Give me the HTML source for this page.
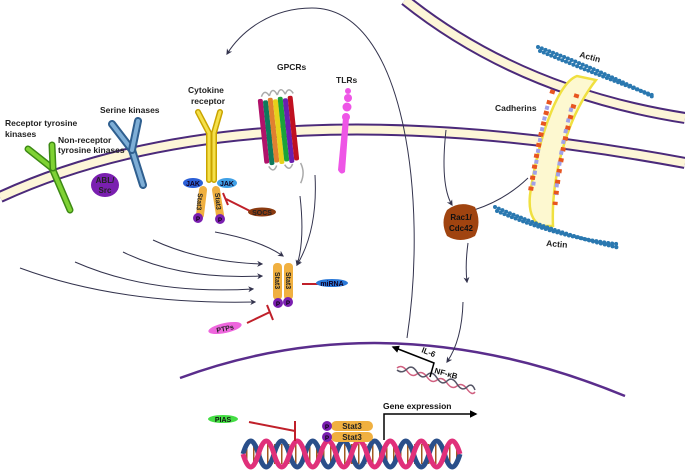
<!DOCTYPE html>
<html><head><meta charset="utf-8"><style>
html,body{margin:0;padding:0;background:#fff;}
svg{display:block;font-family:"Liberation Sans",Arial,sans-serif;font-weight:bold;}
</style></head><body>
<svg width="685" height="474" viewBox="0 0 685 474" xmlns="http://www.w3.org/2000/svg">
<defs>
<marker id="ah" viewBox="0 0 10 10" refX="8" refY="5" markerWidth="6" markerHeight="6" orient="auto"><path d="M0,0 L10,5 L0,10 L3,5z" fill="#33334d"/></marker>
<marker id="bh" viewBox="0 0 10 10" refX="8" refY="5" markerWidth="5" markerHeight="5" orient="auto"><path d="M0,0 L10,5 L0,10z" fill="#000"/></marker>
</defs>

<path d="M405,0 Q520,92 685,118" stroke="#4b2a7a" stroke-width="12" fill="none"/>
<path d="M405,0 Q520,92 685,118" stroke="#fdf6d8" stroke-width="8" fill="none"/>
<path d="M0,197 Q250,82 685,163" stroke="#4b2a7a" stroke-width="12" fill="none"/>
<path d="M0,197 Q250,82 685,163" stroke="#fdf6d8" stroke-width="8" fill="none"/>
<path d="M180,378 Q392,300 625,396" stroke="#5a2d8c" stroke-width="2.5" fill="none"/>

<path d="M407,338 C428,200 405,8 312,8 C272,8 242,30 227,54" stroke="#33334d" stroke-width="1" fill="none" marker-end="url(#ah)"/>

<g stroke="#33334d" stroke-width="1" fill="none" marker-end="url(#ah)">
<path d="M20,268 Q120,305 255,302"/>
<path d="M75,262 Q150,295 253,289"/>
<path d="M123,252 Q180,280 262,276"/>
<path d="M153,240 Q200,262 262,264"/>
<path d="M215,232 Q260,240 283,256"/>
<path d="M300,196 Q305,240 297,265"/>
<path d="M315,175 Q318,230 297,265"/>
<path d="M446,130 Q440,185 452,205"/>
<path d="M468,243 Q465,265 467,282"/>
<path d="M463,302 Q462,340 447,362"/>
</g>
<path d="M474,210 Q505,200 528,178" stroke="#33334d" stroke-width="1" fill="none"/>

<g stroke-linecap="round" fill="none">
<path d="M28,149 L52,168 L70,210" stroke="#3d8a14" stroke-width="7"/>
<path d="M28,149 L52,168 L70,210" stroke="#7fd234" stroke-width="4"/>
<path d="M52,145 L53,168" stroke="#3d8a14" stroke-width="7"/>
<path d="M52,145 L53,168" stroke="#7fd234" stroke-width="4"/>
<path d="M112,124 L132,150 L143,185" stroke="#2f5f8f" stroke-width="8"/>
<path d="M112,124 L132,150 L143,185" stroke="#7eaed6" stroke-width="4"/>
<path d="M138,121 L132,150" stroke="#2f5f8f" stroke-width="8"/>
<path d="M138,121 L132,150" stroke="#7eaed6" stroke-width="4"/>
<path d="M198,112 L209,133 L209,180" stroke="#c9a400" stroke-width="6"/>
<path d="M220,112 L214,133 L214,180" stroke="#c9a400" stroke-width="6"/>
<path d="M198,112 L209,133 L209,180" stroke="#f5e04a" stroke-width="3"/>
<path d="M220,112 L214,133 L214,180" stroke="#f5e04a" stroke-width="3"/>
</g>
<ellipse cx="105" cy="185" rx="14" ry="12" fill="#7a1fb0"/>
<text x="105" y="183" font-size="8" text-anchor="middle" fill="#222">ABL/</text>
<text x="105" y="193" font-size="8" text-anchor="middle" fill="#222">Src</text>

<ellipse cx="193" cy="183" rx="10" ry="5" fill="#2b5fd6"/>
<ellipse cx="227" cy="183" rx="10" ry="5" fill="#3fa0e6"/>
<text x="193" y="186" font-size="7" text-anchor="middle" fill="#102">JAK</text>
<text x="227" y="186" font-size="7" text-anchor="middle" fill="#102">JAK</text>
<path d="M203,190 L200,215" stroke="#f0b040" stroke-width="8" stroke-linecap="round"/>
<path d="M216,190 L220,215" stroke="#f0b040" stroke-width="8" stroke-linecap="round"/>
<text transform="translate(198,193) rotate(95)" font-size="7" fill="#222">Stat3</text>
<text transform="translate(215,193) rotate(85)" font-size="7" fill="#222">Stat3</text>
<circle cx="198" cy="218" r="5" fill="#7a1fb0"/><text x="198" y="221" font-size="6" text-anchor="middle">P</text>
<circle cx="220" cy="219" r="5" fill="#7a1fb0"/><text x="220" y="222" font-size="6" text-anchor="middle">P</text>
<path d="M250,211 L226,199 M223,193 L228,205" stroke="#c0202a" stroke-width="2" fill="none"/>
<ellipse cx="262" cy="212" rx="14" ry="4.5" fill="#8a3a10"/>
<text x="262" y="215" font-size="7" text-anchor="middle" fill="#222">SOCS</text>

<g transform="rotate(-6 280 130)">
<path d="M265,95 q4,-8 8,0 M273,95 q4,-10 8,0 M281,95 q4,-10 8,0 M289,95 q4,-8 8,0 M265,165 q4,8 8,0 M281,165 q4,8 8,0 M297,165 q4,10 -2,20" stroke="#aaa" stroke-width="1.5" fill="none"/>
<rect x="261" y="97" width="5" height="65" rx="2" fill="#b0126a"/>
<rect x="266" y="99" width="5" height="65" rx="2" fill="#0f7a5c"/>
<rect x="271" y="97" width="5" height="65" rx="2" fill="#e08030"/>
<rect x="276" y="99" width="5" height="65" rx="2" fill="#e6d11a"/>
<rect x="281" y="97" width="5" height="65" rx="2" fill="#1aa33a"/>
<rect x="286" y="99" width="5" height="65" rx="2" fill="#6a1fb0"/>
<rect x="291" y="97" width="5" height="65" rx="2" fill="#c01020"/>
</g>
<g fill="#ee55e6">
<circle cx="348" cy="91" r="3"/><circle cx="348" cy="98" r="4"/><circle cx="347" cy="107" r="4.5"/><circle cx="346" cy="117" r="4"/>
<path d="M343,118 L349,118 L345,172 Q341,176 338,170z"/>
</g>

<rect x="273" y="263" width="9" height="37" rx="4" fill="#f0b040"/>
<rect x="284" y="263" width="9" height="37" rx="4" fill="#f0b040"/>
<text transform="translate(275,272) rotate(90)" font-size="7" fill="#222">Stat3</text>
<text transform="translate(286,272) rotate(90)" font-size="7" fill="#222">Stat3</text>
<circle cx="278" cy="303" r="5" fill="#7a1fb0"/><text x="278" y="306" font-size="6" text-anchor="middle">P</text>
<circle cx="288" cy="302" r="5" fill="#7a1fb0"/><text x="288" y="305" font-size="6" text-anchor="middle">P</text>
<path d="M302,284 L323,284" stroke="#c0202a" stroke-width="2"/>
<ellipse cx="332" cy="283" rx="16" ry="4" fill="#2a78d8"/>
<text x="332" y="286" font-size="7" text-anchor="middle" fill="#102">miRNA</text>
<path d="M247,323 L270,312 M267,305 L273,320" stroke="#c0202a" stroke-width="2" fill="none"/>
<ellipse cx="225" cy="328" rx="17" ry="5" transform="rotate(-12 225 328)" fill="#ee66dd"/>
<text x="225" y="331" font-size="7" text-anchor="middle" fill="#222" transform="rotate(-12 225 328)">PTPs</text>

<!-- cadherin -->
<path d="M577,76 C555,84 536,150 530,195 C528,215 535,226 546,226 L553,226 C551,180 565,120 596,80 Z" fill="#fdf8d0" stroke="#f0e040" stroke-width="2.5"/>
<path d="M553,90 C543,120 535,160 530,195" stroke="#e85520" stroke-width="5" stroke-dasharray="4 7" fill="none"/>
<path d="M549,100 C541,130 536,160 533,188" stroke="#a0a0e8" stroke-width="4" stroke-dasharray="4 7" stroke-dashoffset="5" fill="none"/>
<path d="M577,94 C566,130 558,170 555,205" stroke="#e85520" stroke-width="5" stroke-dasharray="4 7" fill="none"/>
<path d="M573,102 C564,135 558,165 556,195" stroke="#a0a0e8" stroke-width="4" stroke-dasharray="4 7" stroke-dashoffset="5" fill="none"/>
<g stroke="#2a78b0" stroke-width="4" stroke-linecap="round" stroke-dasharray="0 4" fill="none">
<path d="M538,47 Q600,70 655,98"/><path d="M540,51 Q600,76 652,95"/>
<path d="M495,207 Q560,235 620,248"/><path d="M497,211 Q560,238 617,244"/>
</g>
<path d="M447,210 Q460,200 475,207 Q482,222 475,236 Q460,244 447,236 Q440,222 447,210z" fill="#a04410"/>
<text x="461" y="220" font-size="8" text-anchor="middle" fill="#111">Rac1/</text>
<text x="461" y="231" font-size="8" text-anchor="middle" fill="#111">Cdc42</text>

<g fill="none" stroke-width="1.5">
<path d="M397,368 q5,-4 10,3 t10,3 t10,3 t10,3 t10,3 t10,3 t10,3 t8,3" stroke="#d06080"/>
<path d="M397,370 q5,4 10,-1 t10,3 t10,3 t10,3 t10,3 t10,3 t10,3 t8,3" stroke="#556"/>
</g>
<path d="M430,377 L434,363 L393,347" stroke="#000" stroke-width="1.5" fill="none" marker-end="url(#bh)"/>
<text transform="translate(421,352) rotate(22)" font-size="8" fill="#111">IL-6</text>
<text transform="translate(434,373) rotate(15)" font-size="8" fill="#111">NF-κB</text>

<!-- bottom DNA -->
<path d="M246,454 L461,454" stroke="#a05a20" stroke-width="20" stroke-dasharray="1.5 5.5" fill="none"/>
<path d="M243,454 Q250.75,428 258.5,454 T274,454 T289.5,454 T305,454 T320.5,454 T336,454 T351.5,454 T367,454 T382.5,454 T398,454 T413.5,454 T429,454 T444.5,454 T460,454" stroke="#2a4f8a" stroke-width="5" fill="none"/>
<path d="M243,454 Q250.75,480 258.5,454 T274,454 T289.5,454 T305,454 T320.5,454 T336,454 T351.5,454 T367,454 T382.5,454 T398,454 T413.5,454 T429,454 T444.5,454 T460,454" stroke="#e0307a" stroke-width="5" fill="none"/>
<rect x="331" y="421" width="42" height="10" rx="5" fill="#f0b040"/>
<rect x="331" y="432" width="42" height="10" rx="5" fill="#f0b040"/>
<text x="352" y="429" font-size="8" text-anchor="middle" fill="#222">Stat3</text>
<text x="352" y="440" font-size="8" text-anchor="middle" fill="#222">Stat3</text>
<circle cx="327" cy="426" r="5" fill="#7a1fb0"/><text x="327" y="429" font-size="6" text-anchor="middle">P</text>
<circle cx="327" cy="437" r="5" fill="#7a1fb0"/><text x="327" y="440" font-size="6" text-anchor="middle">P</text>
<path d="M384,440 L384,414 L476,414" stroke="#000" stroke-width="1.5" fill="none" marker-end="url(#bh)"/>
<text x="383" y="409" font-size="8.5" fill="#111">Gene expression</text>
<ellipse cx="223" cy="419" rx="15" ry="4" fill="#44dd44"/>
<text x="223" y="422" font-size="7" text-anchor="middle" fill="#111">PIAS</text>
<path d="M249,422 L295,431 M295,421 L295,441" stroke="#c0202a" stroke-width="2" fill="none"/>

<g font-size="8.5" fill="#222">
<text x="5" y="126">Receptor tyrosine</text><text x="5" y="137">kinases</text>
<text x="58" y="143">Non-receptor</text><text x="58" y="153">tyrosine kinases</text>
<text x="100" y="113">Serine kinases</text>
<text x="188" y="93">Cytokine</text><text x="191" y="104">receptor</text>
<text x="277" y="70">GPCRs</text>
<text x="336" y="83">TLRs</text>
<text x="495" y="111">Cadherins</text>
<text x="579" y="57" transform="rotate(15 579 57)">Actin</text>
<text x="546" y="246" transform="rotate(5 546 246)">Actin</text>
</g>
</svg>
</body></html>
